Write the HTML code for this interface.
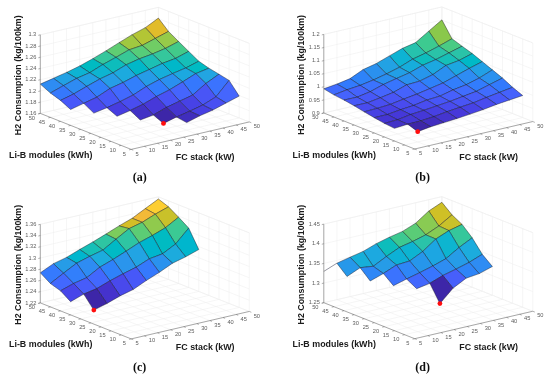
<!DOCTYPE html>
<html><head><meta charset="utf-8"><title>Figure</title>
<style>html,body{margin:0;padding:0;background:#fff}svg{display:block}</style></head>
<body><svg width="550" height="377" viewBox="0 0 550 377">
<defs><filter id="soft" x="0" y="0" width="100%" height="100%"><feGaussianBlur stdDeviation="0.4"/></filter></defs>
<rect width="550" height="377" fill="#ffffff"/>
<g filter="url(#soft)">
<g>
<line x1="131.20" y1="149.40" x2="40.30" y2="113.40" stroke="#ececec" stroke-width="0.5"/>
<line x1="131.20" y1="149.40" x2="249.28" y2="121.95" stroke="#ececec" stroke-width="0.5"/>
<line x1="144.32" y1="146.35" x2="53.42" y2="110.35" stroke="#ececec" stroke-width="0.5"/>
<line x1="121.10" y1="145.40" x2="239.18" y2="117.95" stroke="#ececec" stroke-width="0.5"/>
<line x1="157.44" y1="143.30" x2="66.54" y2="107.30" stroke="#ececec" stroke-width="0.5"/>
<line x1="111.00" y1="141.40" x2="229.08" y2="113.95" stroke="#ececec" stroke-width="0.5"/>
<line x1="170.56" y1="140.25" x2="79.66" y2="104.25" stroke="#ececec" stroke-width="0.5"/>
<line x1="100.90" y1="137.40" x2="218.98" y2="109.95" stroke="#ececec" stroke-width="0.5"/>
<line x1="183.68" y1="137.20" x2="92.78" y2="101.20" stroke="#ececec" stroke-width="0.5"/>
<line x1="90.80" y1="133.40" x2="208.88" y2="105.95" stroke="#ececec" stroke-width="0.5"/>
<line x1="196.80" y1="134.15" x2="105.90" y2="98.15" stroke="#ececec" stroke-width="0.5"/>
<line x1="80.70" y1="129.40" x2="198.78" y2="101.95" stroke="#ececec" stroke-width="0.5"/>
<line x1="209.92" y1="131.10" x2="119.02" y2="95.10" stroke="#ececec" stroke-width="0.5"/>
<line x1="70.60" y1="125.40" x2="188.68" y2="97.95" stroke="#ececec" stroke-width="0.5"/>
<line x1="223.04" y1="128.05" x2="132.14" y2="92.05" stroke="#ececec" stroke-width="0.5"/>
<line x1="60.50" y1="121.40" x2="178.58" y2="93.95" stroke="#ececec" stroke-width="0.5"/>
<line x1="236.16" y1="125.00" x2="145.26" y2="89.00" stroke="#ececec" stroke-width="0.5"/>
<line x1="50.40" y1="117.40" x2="168.48" y2="89.95" stroke="#ececec" stroke-width="0.5"/>
<line x1="249.28" y1="121.95" x2="158.38" y2="85.95" stroke="#ececec" stroke-width="0.5"/>
<line x1="40.30" y1="113.40" x2="158.38" y2="85.95" stroke="#ececec" stroke-width="0.5"/>
<line x1="40.30" y1="113.40" x2="40.30" y2="34.80" stroke="#ececec" stroke-width="0.5"/>
<line x1="249.28" y1="121.95" x2="249.28" y2="43.35" stroke="#ececec" stroke-width="0.5"/>
<line x1="53.42" y1="110.35" x2="53.42" y2="31.75" stroke="#ececec" stroke-width="0.5"/>
<line x1="239.18" y1="117.95" x2="239.18" y2="39.35" stroke="#ececec" stroke-width="0.5"/>
<line x1="66.54" y1="107.30" x2="66.54" y2="28.70" stroke="#ececec" stroke-width="0.5"/>
<line x1="229.08" y1="113.95" x2="229.08" y2="35.35" stroke="#ececec" stroke-width="0.5"/>
<line x1="79.66" y1="104.25" x2="79.66" y2="25.65" stroke="#ececec" stroke-width="0.5"/>
<line x1="218.98" y1="109.95" x2="218.98" y2="31.35" stroke="#ececec" stroke-width="0.5"/>
<line x1="92.78" y1="101.20" x2="92.78" y2="22.60" stroke="#ececec" stroke-width="0.5"/>
<line x1="208.88" y1="105.95" x2="208.88" y2="27.35" stroke="#ececec" stroke-width="0.5"/>
<line x1="105.90" y1="98.15" x2="105.90" y2="19.55" stroke="#ececec" stroke-width="0.5"/>
<line x1="198.78" y1="101.95" x2="198.78" y2="23.35" stroke="#ececec" stroke-width="0.5"/>
<line x1="119.02" y1="95.10" x2="119.02" y2="16.50" stroke="#ececec" stroke-width="0.5"/>
<line x1="188.68" y1="97.95" x2="188.68" y2="19.35" stroke="#ececec" stroke-width="0.5"/>
<line x1="132.14" y1="92.05" x2="132.14" y2="13.45" stroke="#ececec" stroke-width="0.5"/>
<line x1="178.58" y1="93.95" x2="178.58" y2="15.35" stroke="#ececec" stroke-width="0.5"/>
<line x1="145.26" y1="89.00" x2="145.26" y2="10.40" stroke="#ececec" stroke-width="0.5"/>
<line x1="168.48" y1="89.95" x2="168.48" y2="11.35" stroke="#ececec" stroke-width="0.5"/>
<line x1="158.38" y1="85.95" x2="158.38" y2="7.35" stroke="#ececec" stroke-width="0.5"/>
<line x1="158.38" y1="85.95" x2="158.38" y2="7.35" stroke="#ececec" stroke-width="0.5"/>
<line x1="40.30" y1="113.40" x2="158.38" y2="85.95" stroke="#ececec" stroke-width="0.5"/>
<line x1="158.38" y1="85.95" x2="249.28" y2="121.95" stroke="#ececec" stroke-width="0.5"/>
<line x1="40.30" y1="102.17" x2="158.38" y2="74.72" stroke="#ececec" stroke-width="0.5"/>
<line x1="158.38" y1="74.72" x2="249.28" y2="110.72" stroke="#ececec" stroke-width="0.5"/>
<line x1="40.30" y1="90.94" x2="158.38" y2="63.49" stroke="#ececec" stroke-width="0.5"/>
<line x1="158.38" y1="63.49" x2="249.28" y2="99.49" stroke="#ececec" stroke-width="0.5"/>
<line x1="40.30" y1="79.71" x2="158.38" y2="52.26" stroke="#ececec" stroke-width="0.5"/>
<line x1="158.38" y1="52.26" x2="249.28" y2="88.26" stroke="#ececec" stroke-width="0.5"/>
<line x1="40.30" y1="68.49" x2="158.38" y2="41.04" stroke="#ececec" stroke-width="0.5"/>
<line x1="158.38" y1="41.04" x2="249.28" y2="77.04" stroke="#ececec" stroke-width="0.5"/>
<line x1="40.30" y1="57.26" x2="158.38" y2="29.81" stroke="#ececec" stroke-width="0.5"/>
<line x1="158.38" y1="29.81" x2="249.28" y2="65.81" stroke="#ececec" stroke-width="0.5"/>
<line x1="40.30" y1="46.03" x2="158.38" y2="18.58" stroke="#ececec" stroke-width="0.5"/>
<line x1="158.38" y1="18.58" x2="249.28" y2="54.58" stroke="#ececec" stroke-width="0.5"/>
<line x1="40.30" y1="34.80" x2="158.38" y2="7.35" stroke="#ececec" stroke-width="0.5"/>
<line x1="158.38" y1="7.35" x2="249.28" y2="43.35" stroke="#ececec" stroke-width="0.5"/>
<line x1="40.30" y1="34.80" x2="158.38" y2="7.35" stroke="#ececec" stroke-width="0.5"/>
<line x1="158.38" y1="7.35" x2="249.28" y2="43.35" stroke="#ececec" stroke-width="0.5"/>
</g>
<g stroke="#12121c" stroke-width="0.42" stroke-linejoin="round">
<polygon points="155.36,38.40 168.48,31.40 158.38,18.10 145.26,27.70" fill="#e2bc2b"/>
<polygon points="142.24,45.40 155.36,38.40 145.26,27.70 132.14,34.70" fill="#b3c534"/>
<polygon points="165.46,48.40 178.58,41.50 168.48,31.40 155.36,38.40" fill="#96ca49"/>
<polygon points="129.12,49.80 142.24,45.40 132.14,34.70 119.02,42.70" fill="#a0c841"/>
<polygon points="152.34,54.00 165.46,48.40 155.36,38.40 142.24,45.40" fill="#70cd65"/>
<polygon points="175.56,58.40 188.68,51.40 178.58,41.50 165.46,48.40" fill="#43ca8a"/>
<polygon points="116.00,57.30 129.12,49.80 119.02,42.70 105.90,50.90" fill="#5fcd73"/>
<polygon points="139.22,58.90 152.34,54.00 142.24,45.40 129.12,49.80" fill="#57cc7a"/>
<polygon points="162.44,63.40 175.56,58.40 165.46,48.40 152.34,54.00" fill="#34c79c"/>
<polygon points="102.88,64.50 116.00,57.30 105.90,50.90 92.78,58.70" fill="#34c79c"/>
<polygon points="185.66,68.00 198.78,61.20 188.68,51.40 175.56,58.40" fill="#14bfb8"/>
<polygon points="126.10,64.80 139.22,58.90 129.12,49.80 116.00,57.30" fill="#38c896"/>
<polygon points="149.32,69.50 162.44,63.40 152.34,54.00 139.22,58.90" fill="#1cc0b4"/>
<polygon points="89.76,72.70 102.88,64.50 92.78,58.70 79.66,66.00" fill="#04bbc2"/>
<polygon points="172.54,73.60 185.66,68.00 175.56,58.40 162.44,63.40" fill="#01b8c9"/>
<polygon points="112.98,72.80 126.10,64.80 116.00,57.30 102.88,64.50" fill="#0cbdbc"/>
<polygon points="195.76,73.60 208.88,68.20 198.78,61.20 185.66,68.00" fill="#02bbc3"/>
<polygon points="136.20,75.50 149.32,69.50 139.22,58.90 126.10,64.80" fill="#01b8c8"/>
<polygon points="76.64,78.40 89.76,72.70 79.66,66.00 66.54,72.40" fill="#0cb3d3"/>
<polygon points="159.42,79.50 172.54,73.60 162.44,63.40 149.32,69.50" fill="#17aeda"/>
<polygon points="99.86,79.00 112.98,72.80 102.88,64.50 89.76,72.70" fill="#09b4d1"/>
<polygon points="182.64,81.90 195.76,73.60 185.66,68.00 172.54,73.60" fill="#1da8e0"/>
<polygon points="123.08,82.50 136.20,75.50 126.10,64.80 112.98,72.80" fill="#1baade"/>
<polygon points="205.86,83.50 218.98,74.20 208.88,68.20 195.76,73.60" fill="#20a5e2"/>
<polygon points="63.52,85.60 76.64,78.40 66.54,72.40 53.42,78.30" fill="#22a1e4"/>
<polygon points="146.30,86.50 159.42,79.50 149.32,69.50 136.20,75.50" fill="#259ce7"/>
<polygon points="86.74,86.40 99.86,79.00 89.76,72.70 76.64,78.40" fill="#22a2e4"/>
<polygon points="169.52,89.80 182.64,81.90 172.54,73.60 159.42,79.50" fill="#2b90ef"/>
<polygon points="109.96,88.50 123.08,82.50 112.98,72.80 99.86,79.00" fill="#259de7"/>
<polygon points="192.74,95.00 205.86,83.50 195.76,73.60 182.64,81.90" fill="#3578fd"/>
<polygon points="50.40,93.00 63.52,85.60 53.42,78.30 40.30,84.10" fill="#2d8cf3"/>
<polygon points="133.18,95.00 146.30,86.50 136.20,75.50 123.08,82.50" fill="#307ffb"/>
<polygon points="215.96,96.80 229.08,80.40 218.98,74.20 205.86,83.50" fill="#3b73fe"/>
<polygon points="73.62,94.00 86.74,86.40 76.64,78.40 63.52,85.60" fill="#2d8bf3"/>
<polygon points="156.40,96.50 169.52,89.80 159.42,79.50 146.30,86.50" fill="#327cfc"/>
<polygon points="96.84,97.20 109.96,88.50 99.86,79.00 86.74,86.40" fill="#307ffb"/>
<polygon points="179.62,101.20 192.74,95.00 182.64,81.90 169.52,89.80" fill="#4465fd"/>
<polygon points="202.84,105.00 215.96,96.80 205.86,83.50 192.74,95.00" fill="#4855f6"/>
<polygon points="120.06,101.60 133.18,95.00 123.08,82.50 109.96,88.50" fill="#4269fe"/>
<polygon points="60.50,100.40 73.62,94.00 63.52,85.60 50.40,93.00" fill="#3678fd"/>
<polygon points="143.28,104.10 156.40,96.50 146.30,86.50 133.18,95.00" fill="#4660fc"/>
<polygon points="226.06,103.00 239.18,96.10 229.08,80.40 215.96,96.80" fill="#4466fd"/>
<polygon points="83.72,103.30 96.84,97.20 86.74,86.40 73.62,94.00" fill="#406cfe"/>
<polygon points="166.50,107.40 179.62,101.20 169.52,89.80 156.40,96.50" fill="#4853f5"/>
<polygon points="106.94,107.70 120.06,101.60 109.96,88.50 96.84,97.20" fill="#4758f8"/>
<polygon points="189.72,111.20 202.84,105.00 192.74,95.00 179.62,101.20" fill="#4742e6"/>
<polygon points="130.16,110.50 143.28,104.10 133.18,95.00 120.06,101.60" fill="#484df0"/>
<polygon points="212.94,110.00 226.06,103.00 215.96,96.80 202.84,105.00" fill="#484ff2"/>
<polygon points="70.60,109.50 83.72,103.30 73.62,94.00 60.50,100.40" fill="#4759f9"/>
<polygon points="153.38,115.00 166.50,107.40 156.40,96.50 143.28,104.10" fill="#4639d9"/>
<polygon points="93.82,113.10 106.94,107.70 96.84,97.20 83.72,103.30" fill="#484aee"/>
<polygon points="176.60,117.00 189.72,111.20 179.62,101.20 166.50,107.40" fill="#4434cf"/>
<polygon points="117.04,116.30 130.16,110.50 120.06,101.60 106.94,107.70" fill="#463de0"/>
<polygon points="199.82,115.80 212.94,110.00 202.84,105.00 189.72,111.20" fill="#473fe2"/>
<polygon points="140.26,120.00 153.38,115.00 143.28,104.10 130.16,110.50" fill="#4330c5"/>
<polygon points="163.48,123.40 176.60,117.00 166.50,107.40 153.38,115.00" fill="#3e26a8"/>
<polygon points="186.70,122.60 199.82,115.80 189.72,111.20 176.60,117.00" fill="#412dbd"/>
</g>
<line x1="40.30" y1="113.40" x2="40.30" y2="34.80" stroke="#666666" stroke-width="0.55"/>
<line x1="131.20" y1="149.40" x2="249.28" y2="121.95" stroke="#666666" stroke-width="0.55"/>
<line x1="131.20" y1="149.40" x2="40.30" y2="113.40" stroke="#666666" stroke-width="0.55"/>
<line x1="131.20" y1="149.40" x2="133.25" y2="150.21" stroke="#666666" stroke-width="0.5"/>
<line x1="131.20" y1="149.40" x2="129.06" y2="149.90" stroke="#666666" stroke-width="0.5"/>
<line x1="144.32" y1="146.35" x2="146.37" y2="147.16" stroke="#666666" stroke-width="0.5"/>
<line x1="121.10" y1="145.40" x2="118.96" y2="145.90" stroke="#666666" stroke-width="0.5"/>
<line x1="157.44" y1="143.30" x2="159.49" y2="144.11" stroke="#666666" stroke-width="0.5"/>
<line x1="111.00" y1="141.40" x2="108.86" y2="141.90" stroke="#666666" stroke-width="0.5"/>
<line x1="170.56" y1="140.25" x2="172.61" y2="141.06" stroke="#666666" stroke-width="0.5"/>
<line x1="100.90" y1="137.40" x2="98.76" y2="137.90" stroke="#666666" stroke-width="0.5"/>
<line x1="183.68" y1="137.20" x2="185.73" y2="138.01" stroke="#666666" stroke-width="0.5"/>
<line x1="90.80" y1="133.40" x2="88.66" y2="133.90" stroke="#666666" stroke-width="0.5"/>
<line x1="196.80" y1="134.15" x2="198.85" y2="134.96" stroke="#666666" stroke-width="0.5"/>
<line x1="80.70" y1="129.40" x2="78.56" y2="129.90" stroke="#666666" stroke-width="0.5"/>
<line x1="209.92" y1="131.10" x2="211.97" y2="131.91" stroke="#666666" stroke-width="0.5"/>
<line x1="70.60" y1="125.40" x2="68.46" y2="125.90" stroke="#666666" stroke-width="0.5"/>
<line x1="223.04" y1="128.05" x2="225.09" y2="128.86" stroke="#666666" stroke-width="0.5"/>
<line x1="60.50" y1="121.40" x2="58.36" y2="121.90" stroke="#666666" stroke-width="0.5"/>
<line x1="236.16" y1="125.00" x2="238.21" y2="125.81" stroke="#666666" stroke-width="0.5"/>
<line x1="50.40" y1="117.40" x2="48.26" y2="117.90" stroke="#666666" stroke-width="0.5"/>
<line x1="249.28" y1="121.95" x2="251.33" y2="122.76" stroke="#666666" stroke-width="0.5"/>
<line x1="40.30" y1="113.40" x2="38.16" y2="113.90" stroke="#666666" stroke-width="0.5"/>
<line x1="40.30" y1="113.40" x2="38.30" y2="113.90" stroke="#666666" stroke-width="0.5"/>
<line x1="40.30" y1="102.17" x2="38.30" y2="102.67" stroke="#666666" stroke-width="0.5"/>
<line x1="40.30" y1="90.94" x2="38.30" y2="91.44" stroke="#666666" stroke-width="0.5"/>
<line x1="40.30" y1="79.71" x2="38.30" y2="80.21" stroke="#666666" stroke-width="0.5"/>
<line x1="40.30" y1="68.49" x2="38.30" y2="68.99" stroke="#666666" stroke-width="0.5"/>
<line x1="40.30" y1="57.26" x2="38.30" y2="57.76" stroke="#666666" stroke-width="0.5"/>
<line x1="40.30" y1="46.03" x2="38.30" y2="46.53" stroke="#666666" stroke-width="0.5"/>
<line x1="40.30" y1="34.80" x2="38.30" y2="35.30" stroke="#666666" stroke-width="0.5"/>
<g font-family="Liberation Sans, sans-serif" font-size="5.7" fill="#5c5c5c">
<text x="135.60" y="155.50" text-anchor="start">5</text>
<text x="125.90" y="155.80" text-anchor="end">5</text>
<text x="148.72" y="152.45" text-anchor="start">10</text>
<text x="115.80" y="151.80" text-anchor="end">10</text>
<text x="161.84" y="149.40" text-anchor="start">15</text>
<text x="105.70" y="147.80" text-anchor="end">15</text>
<text x="174.96" y="146.35" text-anchor="start">20</text>
<text x="95.60" y="143.80" text-anchor="end">20</text>
<text x="188.08" y="143.30" text-anchor="start">25</text>
<text x="85.50" y="139.80" text-anchor="end">25</text>
<text x="201.20" y="140.25" text-anchor="start">30</text>
<text x="75.40" y="135.80" text-anchor="end">30</text>
<text x="214.32" y="137.20" text-anchor="start">35</text>
<text x="65.30" y="131.80" text-anchor="end">35</text>
<text x="227.44" y="134.15" text-anchor="start">40</text>
<text x="55.20" y="127.80" text-anchor="end">40</text>
<text x="240.56" y="131.10" text-anchor="start">45</text>
<text x="45.10" y="123.80" text-anchor="end">45</text>
<text x="253.68" y="128.05" text-anchor="start">50</text>
<text x="35.00" y="119.80" text-anchor="end">50</text>
<text x="36.30" y="115.00" text-anchor="end">1.16</text>
<text x="36.30" y="103.77" text-anchor="end">1.18</text>
<text x="36.30" y="92.54" text-anchor="end">1.2</text>
<text x="36.30" y="81.31" text-anchor="end">1.22</text>
<text x="36.30" y="70.09" text-anchor="end">1.24</text>
<text x="36.30" y="58.86" text-anchor="end">1.26</text>
<text x="36.30" y="47.63" text-anchor="end">1.28</text>
<text x="36.30" y="36.40" text-anchor="end">1.3</text>
</g>
<g font-family="Liberation Sans, sans-serif" font-weight="bold" font-size="8.88" fill="#1a1a1a">
<text x="205.20" y="160.30" text-anchor="middle">FC stack (kW)</text>
<text x="50.70" y="157.90" text-anchor="middle">Li-B modules (kWh)</text>
<text transform="translate(21.40,75.30) rotate(-90)" text-anchor="middle">H2 Consumption (kg/100km)</text>
</g>
<circle cx="163.48" cy="123.40" r="2.4" fill="#ff0a0a"/>
<text x="139.8" y="181.3" text-anchor="middle" font-family="Liberation Serif, serif" font-size="12" font-weight="bold" fill="#111">(a)</text>
<g>
<line x1="414.70" y1="149.00" x2="323.80" y2="113.00" stroke="#ececec" stroke-width="0.5"/>
<line x1="414.70" y1="149.00" x2="532.78" y2="121.55" stroke="#ececec" stroke-width="0.5"/>
<line x1="427.82" y1="145.95" x2="336.92" y2="109.95" stroke="#ececec" stroke-width="0.5"/>
<line x1="404.60" y1="145.00" x2="522.68" y2="117.55" stroke="#ececec" stroke-width="0.5"/>
<line x1="440.94" y1="142.90" x2="350.04" y2="106.90" stroke="#ececec" stroke-width="0.5"/>
<line x1="394.50" y1="141.00" x2="512.58" y2="113.55" stroke="#ececec" stroke-width="0.5"/>
<line x1="454.06" y1="139.85" x2="363.16" y2="103.85" stroke="#ececec" stroke-width="0.5"/>
<line x1="384.40" y1="137.00" x2="502.48" y2="109.55" stroke="#ececec" stroke-width="0.5"/>
<line x1="467.18" y1="136.80" x2="376.28" y2="100.80" stroke="#ececec" stroke-width="0.5"/>
<line x1="374.30" y1="133.00" x2="492.38" y2="105.55" stroke="#ececec" stroke-width="0.5"/>
<line x1="480.30" y1="133.75" x2="389.40" y2="97.75" stroke="#ececec" stroke-width="0.5"/>
<line x1="364.20" y1="129.00" x2="482.28" y2="101.55" stroke="#ececec" stroke-width="0.5"/>
<line x1="493.42" y1="130.70" x2="402.52" y2="94.70" stroke="#ececec" stroke-width="0.5"/>
<line x1="354.10" y1="125.00" x2="472.18" y2="97.55" stroke="#ececec" stroke-width="0.5"/>
<line x1="506.54" y1="127.65" x2="415.64" y2="91.65" stroke="#ececec" stroke-width="0.5"/>
<line x1="344.00" y1="121.00" x2="462.08" y2="93.55" stroke="#ececec" stroke-width="0.5"/>
<line x1="519.66" y1="124.60" x2="428.76" y2="88.60" stroke="#ececec" stroke-width="0.5"/>
<line x1="333.90" y1="117.00" x2="451.98" y2="89.55" stroke="#ececec" stroke-width="0.5"/>
<line x1="532.78" y1="121.55" x2="441.88" y2="85.55" stroke="#ececec" stroke-width="0.5"/>
<line x1="323.80" y1="113.00" x2="441.88" y2="85.55" stroke="#ececec" stroke-width="0.5"/>
<line x1="323.80" y1="113.00" x2="323.80" y2="34.40" stroke="#ececec" stroke-width="0.5"/>
<line x1="532.78" y1="121.55" x2="532.78" y2="42.95" stroke="#ececec" stroke-width="0.5"/>
<line x1="336.92" y1="109.95" x2="336.92" y2="31.35" stroke="#ececec" stroke-width="0.5"/>
<line x1="522.68" y1="117.55" x2="522.68" y2="38.95" stroke="#ececec" stroke-width="0.5"/>
<line x1="350.04" y1="106.90" x2="350.04" y2="28.30" stroke="#ececec" stroke-width="0.5"/>
<line x1="512.58" y1="113.55" x2="512.58" y2="34.95" stroke="#ececec" stroke-width="0.5"/>
<line x1="363.16" y1="103.85" x2="363.16" y2="25.25" stroke="#ececec" stroke-width="0.5"/>
<line x1="502.48" y1="109.55" x2="502.48" y2="30.95" stroke="#ececec" stroke-width="0.5"/>
<line x1="376.28" y1="100.80" x2="376.28" y2="22.20" stroke="#ececec" stroke-width="0.5"/>
<line x1="492.38" y1="105.55" x2="492.38" y2="26.95" stroke="#ececec" stroke-width="0.5"/>
<line x1="389.40" y1="97.75" x2="389.40" y2="19.15" stroke="#ececec" stroke-width="0.5"/>
<line x1="482.28" y1="101.55" x2="482.28" y2="22.95" stroke="#ececec" stroke-width="0.5"/>
<line x1="402.52" y1="94.70" x2="402.52" y2="16.10" stroke="#ececec" stroke-width="0.5"/>
<line x1="472.18" y1="97.55" x2="472.18" y2="18.95" stroke="#ececec" stroke-width="0.5"/>
<line x1="415.64" y1="91.65" x2="415.64" y2="13.05" stroke="#ececec" stroke-width="0.5"/>
<line x1="462.08" y1="93.55" x2="462.08" y2="14.95" stroke="#ececec" stroke-width="0.5"/>
<line x1="428.76" y1="88.60" x2="428.76" y2="10.00" stroke="#ececec" stroke-width="0.5"/>
<line x1="451.98" y1="89.55" x2="451.98" y2="10.95" stroke="#ececec" stroke-width="0.5"/>
<line x1="441.88" y1="85.55" x2="441.88" y2="6.95" stroke="#ececec" stroke-width="0.5"/>
<line x1="441.88" y1="85.55" x2="441.88" y2="6.95" stroke="#ececec" stroke-width="0.5"/>
<line x1="323.80" y1="113.00" x2="441.88" y2="85.55" stroke="#ececec" stroke-width="0.5"/>
<line x1="441.88" y1="85.55" x2="532.78" y2="121.55" stroke="#ececec" stroke-width="0.5"/>
<line x1="323.80" y1="99.90" x2="441.88" y2="72.45" stroke="#ececec" stroke-width="0.5"/>
<line x1="441.88" y1="72.45" x2="532.78" y2="108.45" stroke="#ececec" stroke-width="0.5"/>
<line x1="323.80" y1="86.80" x2="441.88" y2="59.35" stroke="#ececec" stroke-width="0.5"/>
<line x1="441.88" y1="59.35" x2="532.78" y2="95.35" stroke="#ececec" stroke-width="0.5"/>
<line x1="323.80" y1="73.70" x2="441.88" y2="46.25" stroke="#ececec" stroke-width="0.5"/>
<line x1="441.88" y1="46.25" x2="532.78" y2="82.25" stroke="#ececec" stroke-width="0.5"/>
<line x1="323.80" y1="60.60" x2="441.88" y2="33.15" stroke="#ececec" stroke-width="0.5"/>
<line x1="441.88" y1="33.15" x2="532.78" y2="69.15" stroke="#ececec" stroke-width="0.5"/>
<line x1="323.80" y1="47.50" x2="441.88" y2="20.05" stroke="#ececec" stroke-width="0.5"/>
<line x1="441.88" y1="20.05" x2="532.78" y2="56.05" stroke="#ececec" stroke-width="0.5"/>
<line x1="323.80" y1="34.40" x2="441.88" y2="6.95" stroke="#ececec" stroke-width="0.5"/>
<line x1="441.88" y1="6.95" x2="532.78" y2="42.95" stroke="#ececec" stroke-width="0.5"/>
<line x1="323.80" y1="34.40" x2="441.88" y2="6.95" stroke="#ececec" stroke-width="0.5"/>
<line x1="441.88" y1="6.95" x2="532.78" y2="42.95" stroke="#ececec" stroke-width="0.5"/>
</g>
<g stroke="#12121c" stroke-width="0.42" stroke-linejoin="round">
<polygon points="438.86,46.12 451.98,38.74 441.88,19.86 428.76,31.14" fill="#8ac84c"/>
<polygon points="425.74,53.00 438.86,46.12 428.76,31.14 415.64,42.62" fill="#3dca90"/>
<polygon points="448.96,52.90 462.08,46.22 451.98,38.74 438.86,46.12" fill="#4acb84"/>
<polygon points="412.62,59.18 425.74,53.00 415.64,42.62 402.52,48.30" fill="#26c2ad"/>
<polygon points="435.84,59.58 448.96,52.90 438.86,46.12 425.74,53.00" fill="#2bc3a8"/>
<polygon points="459.06,60.48 472.18,53.50 462.08,46.22 448.96,52.90" fill="#2bc3a8"/>
<polygon points="399.50,67.26 412.62,59.18 402.52,48.30 389.40,55.88" fill="#0db3d3"/>
<polygon points="422.72,65.26 435.84,59.58 425.74,53.00 412.62,59.18" fill="#0abdbd"/>
<polygon points="445.94,65.46 459.06,60.48 448.96,52.90 435.84,59.58" fill="#15bfb8"/>
<polygon points="386.38,73.94 399.50,67.26 389.40,55.88 376.28,63.56" fill="#22a2e4"/>
<polygon points="469.16,68.46 482.28,61.68 472.18,53.50 459.06,60.48" fill="#01b9c7"/>
<polygon points="409.60,72.74 422.72,65.26 412.62,59.18 399.50,67.26" fill="#19addc"/>
<polygon points="432.82,74.64 445.94,65.46 435.84,59.58 422.72,65.26" fill="#1da8e0"/>
<polygon points="373.26,80.02 386.38,73.94 376.28,63.56 363.16,69.54" fill="#2b91ef"/>
<polygon points="456.04,75.74 469.16,68.46 459.06,60.48 445.94,65.46" fill="#1ea7e1"/>
<polygon points="396.48,78.52 409.60,72.74 399.50,67.26 386.38,73.94" fill="#249fe6"/>
<polygon points="479.26,78.04 492.38,69.86 482.28,61.68 469.16,68.46" fill="#23a0e5"/>
<polygon points="419.70,81.12 432.82,74.64 422.72,65.26 409.60,72.74" fill="#2896ec"/>
<polygon points="360.14,85.40 373.26,80.02 363.16,69.54 350.04,78.62" fill="#2e83f9"/>
<polygon points="442.92,83.02 456.04,75.74 445.94,65.46 432.82,74.64" fill="#2b90f0"/>
<polygon points="383.36,84.50 396.48,78.52 386.38,73.94 373.26,80.02" fill="#2c8ef1"/>
<polygon points="466.14,84.72 479.26,78.04 469.16,68.46 456.04,75.74" fill="#2d8cf3"/>
<polygon points="406.58,84.90 419.70,81.12 409.60,72.74 396.48,78.52" fill="#2b91ef"/>
<polygon points="489.36,84.72 502.48,78.04 492.38,69.86 479.26,78.04" fill="#2b91ef"/>
<polygon points="347.02,89.78 360.14,85.40 350.04,78.62 336.92,84.10" fill="#337afd"/>
<polygon points="429.80,88.60 442.92,83.02 432.82,74.64 419.70,81.12" fill="#2f81fa"/>
<polygon points="370.24,91.68 383.36,84.50 373.26,80.02 360.14,85.40" fill="#3a73fe"/>
<polygon points="453.02,89.90 466.14,84.72 456.04,75.74 442.92,83.02" fill="#307efb"/>
<polygon points="393.46,92.38 406.58,84.90 396.48,78.52 383.36,84.50" fill="#3875fe"/>
<polygon points="476.24,91.40 489.36,84.72 479.26,78.04 466.14,84.72" fill="#337bfd"/>
<polygon points="333.90,94.86 347.02,89.78 336.92,84.10 323.80,88.78" fill="#406cfe"/>
<polygon points="416.68,94.18 429.80,88.60 419.70,81.12 406.58,84.90" fill="#3e6fff"/>
<polygon points="499.46,92.40 512.58,87.32 502.48,78.04 489.36,84.72" fill="#337afd"/>
<polygon points="357.12,97.16 370.24,91.68 360.14,85.40 347.02,89.78" fill="#4563fc"/>
<polygon points="439.90,96.08 453.02,89.90 442.92,83.02 429.80,88.60" fill="#4369fe"/>
<polygon points="380.34,97.76 393.46,92.38 383.36,84.50 370.24,91.68" fill="#4465fd"/>
<polygon points="463.12,96.38 476.24,91.40 466.14,84.72 453.02,89.90" fill="#406dfe"/>
<polygon points="486.34,97.48 499.46,92.40 489.36,84.72 476.24,91.40" fill="#406cfe"/>
<polygon points="403.56,99.16 416.68,94.18 406.58,84.90 393.46,92.38" fill="#4562fc"/>
<polygon points="344.00,100.04 357.12,97.16 347.02,89.78 333.90,94.86" fill="#4564fd"/>
<polygon points="426.78,100.06 439.90,96.08 429.80,88.60 416.68,94.18" fill="#4562fc"/>
<polygon points="509.56,99.98 522.68,95.50 512.58,87.32 499.46,92.40" fill="#4562fc"/>
<polygon points="367.22,102.84 380.34,97.76 370.24,91.68 357.12,97.16" fill="#4758f8"/>
<polygon points="450.00,101.36 463.12,96.38 453.02,89.90 439.90,96.08" fill="#4660fc"/>
<polygon points="390.44,104.34 403.56,99.16 393.46,92.38 380.34,97.76" fill="#4854f6"/>
<polygon points="473.22,102.86 486.34,97.48 476.24,91.40 463.12,96.38" fill="#475dfa"/>
<polygon points="413.66,105.44 426.78,100.06 416.68,94.18 403.56,99.16" fill="#4854f5"/>
<polygon points="496.44,104.46 509.56,99.98 499.46,92.40 486.34,97.48" fill="#4758f8"/>
<polygon points="354.10,105.72 367.22,102.84 357.12,97.16 344.00,100.04" fill="#4759f8"/>
<polygon points="436.88,105.84 450.00,101.36 439.90,96.08 426.78,100.06" fill="#4757f7"/>
<polygon points="377.32,108.32 390.44,104.34 380.34,97.76 367.22,102.84" fill="#484ff1"/>
<polygon points="460.10,107.24 473.22,102.86 463.12,96.38 450.00,101.36" fill="#4854f5"/>
<polygon points="400.54,109.72 413.66,105.44 403.56,99.16 390.44,104.34" fill="#484cef"/>
<polygon points="483.32,109.54 496.44,104.46 486.34,97.48 473.22,102.86" fill="#484bef"/>
<polygon points="423.76,110.32 436.88,105.84 426.78,100.06 413.66,105.44" fill="#484ef1"/>
<polygon points="364.20,111.80 377.32,108.32 367.22,102.84 354.10,105.72" fill="#484cef"/>
<polygon points="446.98,111.72 460.10,107.24 450.00,101.36 436.88,105.84" fill="#484bef"/>
<polygon points="387.42,114.50 400.54,109.72 390.44,104.34 377.32,108.32" fill="#4740e4"/>
<polygon points="470.20,114.12 483.32,109.54 473.22,102.86 460.10,107.24" fill="#4742e6"/>
<polygon points="410.64,114.50 423.76,110.32 413.66,105.44 400.54,109.72" fill="#4747eb"/>
<polygon points="433.86,116.60 446.98,111.72 436.88,105.84 423.76,110.32" fill="#473fe3"/>
<polygon points="374.30,117.68 387.42,114.50 377.32,108.32 364.20,111.80" fill="#4740e3"/>
<polygon points="457.08,118.50 470.20,114.12 460.10,107.24 446.98,111.72" fill="#4639da"/>
<polygon points="397.52,119.78 410.64,114.50 400.54,109.72 387.42,114.50" fill="#4539d9"/>
<polygon points="420.74,120.88 433.86,116.60 423.76,110.32 410.64,114.50" fill="#4538d7"/>
<polygon points="443.96,122.58 457.08,118.50 446.98,111.72 433.86,116.60" fill="#4434cf"/>
<polygon points="384.40,123.36 397.52,119.78 387.42,114.50 374.30,117.68" fill="#4536d3"/>
<polygon points="407.62,124.16 420.74,120.88 410.64,114.50 397.52,119.78" fill="#4537d5"/>
<polygon points="430.84,126.76 443.96,122.58 433.86,116.60 420.74,120.88" fill="#422fc0"/>
<polygon points="394.50,128.34 407.62,124.16 397.52,119.78 384.40,123.36" fill="#4331c7"/>
<polygon points="417.72,131.64 430.84,126.76 420.74,120.88 407.62,124.16" fill="#3e26a8"/>
</g>
<line x1="323.80" y1="113.00" x2="323.80" y2="34.40" stroke="#666666" stroke-width="0.55"/>
<line x1="414.70" y1="149.00" x2="532.78" y2="121.55" stroke="#666666" stroke-width="0.55"/>
<line x1="414.70" y1="149.00" x2="323.80" y2="113.00" stroke="#666666" stroke-width="0.55"/>
<line x1="414.70" y1="149.00" x2="416.75" y2="149.81" stroke="#666666" stroke-width="0.5"/>
<line x1="414.70" y1="149.00" x2="412.56" y2="149.50" stroke="#666666" stroke-width="0.5"/>
<line x1="427.82" y1="145.95" x2="429.87" y2="146.76" stroke="#666666" stroke-width="0.5"/>
<line x1="404.60" y1="145.00" x2="402.46" y2="145.50" stroke="#666666" stroke-width="0.5"/>
<line x1="440.94" y1="142.90" x2="442.99" y2="143.71" stroke="#666666" stroke-width="0.5"/>
<line x1="394.50" y1="141.00" x2="392.36" y2="141.50" stroke="#666666" stroke-width="0.5"/>
<line x1="454.06" y1="139.85" x2="456.11" y2="140.66" stroke="#666666" stroke-width="0.5"/>
<line x1="384.40" y1="137.00" x2="382.26" y2="137.50" stroke="#666666" stroke-width="0.5"/>
<line x1="467.18" y1="136.80" x2="469.23" y2="137.61" stroke="#666666" stroke-width="0.5"/>
<line x1="374.30" y1="133.00" x2="372.16" y2="133.50" stroke="#666666" stroke-width="0.5"/>
<line x1="480.30" y1="133.75" x2="482.35" y2="134.56" stroke="#666666" stroke-width="0.5"/>
<line x1="364.20" y1="129.00" x2="362.06" y2="129.50" stroke="#666666" stroke-width="0.5"/>
<line x1="493.42" y1="130.70" x2="495.47" y2="131.51" stroke="#666666" stroke-width="0.5"/>
<line x1="354.10" y1="125.00" x2="351.96" y2="125.50" stroke="#666666" stroke-width="0.5"/>
<line x1="506.54" y1="127.65" x2="508.59" y2="128.46" stroke="#666666" stroke-width="0.5"/>
<line x1="344.00" y1="121.00" x2="341.86" y2="121.50" stroke="#666666" stroke-width="0.5"/>
<line x1="519.66" y1="124.60" x2="521.71" y2="125.41" stroke="#666666" stroke-width="0.5"/>
<line x1="333.90" y1="117.00" x2="331.76" y2="117.50" stroke="#666666" stroke-width="0.5"/>
<line x1="532.78" y1="121.55" x2="534.83" y2="122.36" stroke="#666666" stroke-width="0.5"/>
<line x1="323.80" y1="113.00" x2="321.66" y2="113.50" stroke="#666666" stroke-width="0.5"/>
<line x1="323.80" y1="113.00" x2="321.80" y2="113.50" stroke="#666666" stroke-width="0.5"/>
<line x1="323.80" y1="99.90" x2="321.80" y2="100.40" stroke="#666666" stroke-width="0.5"/>
<line x1="323.80" y1="86.80" x2="321.80" y2="87.30" stroke="#666666" stroke-width="0.5"/>
<line x1="323.80" y1="73.70" x2="321.80" y2="74.20" stroke="#666666" stroke-width="0.5"/>
<line x1="323.80" y1="60.60" x2="321.80" y2="61.10" stroke="#666666" stroke-width="0.5"/>
<line x1="323.80" y1="47.50" x2="321.80" y2="48.00" stroke="#666666" stroke-width="0.5"/>
<line x1="323.80" y1="34.40" x2="321.80" y2="34.90" stroke="#666666" stroke-width="0.5"/>
<g font-family="Liberation Sans, sans-serif" font-size="5.7" fill="#5c5c5c">
<text x="419.10" y="155.10" text-anchor="start">5</text>
<text x="409.40" y="155.40" text-anchor="end">5</text>
<text x="432.22" y="152.05" text-anchor="start">10</text>
<text x="399.30" y="151.40" text-anchor="end">10</text>
<text x="445.34" y="149.00" text-anchor="start">15</text>
<text x="389.20" y="147.40" text-anchor="end">15</text>
<text x="458.46" y="145.95" text-anchor="start">20</text>
<text x="379.10" y="143.40" text-anchor="end">20</text>
<text x="471.58" y="142.90" text-anchor="start">25</text>
<text x="369.00" y="139.40" text-anchor="end">25</text>
<text x="484.70" y="139.85" text-anchor="start">30</text>
<text x="358.90" y="135.40" text-anchor="end">30</text>
<text x="497.82" y="136.80" text-anchor="start">35</text>
<text x="348.80" y="131.40" text-anchor="end">35</text>
<text x="510.94" y="133.75" text-anchor="start">40</text>
<text x="338.70" y="127.40" text-anchor="end">40</text>
<text x="524.06" y="130.70" text-anchor="start">45</text>
<text x="328.60" y="123.40" text-anchor="end">45</text>
<text x="537.18" y="127.65" text-anchor="start">50</text>
<text x="318.50" y="119.40" text-anchor="end">50</text>
<text x="319.80" y="114.60" text-anchor="end">0.9</text>
<text x="319.80" y="101.50" text-anchor="end">0.95</text>
<text x="319.80" y="88.40" text-anchor="end">1</text>
<text x="319.80" y="75.30" text-anchor="end">1.05</text>
<text x="319.80" y="62.20" text-anchor="end">1.1</text>
<text x="319.80" y="49.10" text-anchor="end">1.15</text>
<text x="319.80" y="36.00" text-anchor="end">1.2</text>
</g>
<g font-family="Liberation Sans, sans-serif" font-weight="bold" font-size="8.88" fill="#1a1a1a">
<text x="488.70" y="159.90" text-anchor="middle">FC stack (kW)</text>
<text x="334.20" y="157.50" text-anchor="middle">Li-B modules (kWh)</text>
<text transform="translate(303.80,74.90) rotate(-90)" text-anchor="middle">H2 Consumption (kg/100km)</text>
</g>
<circle cx="417.72" cy="131.64" r="2.4" fill="#ff0a0a"/>
<text x="422.7" y="181.3" text-anchor="middle" font-family="Liberation Serif, serif" font-size="12" font-weight="bold" fill="#111">(b)</text>
<g>
<line x1="131.20" y1="338.90" x2="40.30" y2="302.90" stroke="#ececec" stroke-width="0.5"/>
<line x1="131.20" y1="338.90" x2="249.28" y2="311.45" stroke="#ececec" stroke-width="0.5"/>
<line x1="144.32" y1="335.85" x2="53.42" y2="299.85" stroke="#ececec" stroke-width="0.5"/>
<line x1="121.10" y1="334.90" x2="239.18" y2="307.45" stroke="#ececec" stroke-width="0.5"/>
<line x1="157.44" y1="332.80" x2="66.54" y2="296.80" stroke="#ececec" stroke-width="0.5"/>
<line x1="111.00" y1="330.90" x2="229.08" y2="303.45" stroke="#ececec" stroke-width="0.5"/>
<line x1="170.56" y1="329.75" x2="79.66" y2="293.75" stroke="#ececec" stroke-width="0.5"/>
<line x1="100.90" y1="326.90" x2="218.98" y2="299.45" stroke="#ececec" stroke-width="0.5"/>
<line x1="183.68" y1="326.70" x2="92.78" y2="290.70" stroke="#ececec" stroke-width="0.5"/>
<line x1="90.80" y1="322.90" x2="208.88" y2="295.45" stroke="#ececec" stroke-width="0.5"/>
<line x1="196.80" y1="323.65" x2="105.90" y2="287.65" stroke="#ececec" stroke-width="0.5"/>
<line x1="80.70" y1="318.90" x2="198.78" y2="291.45" stroke="#ececec" stroke-width="0.5"/>
<line x1="209.92" y1="320.60" x2="119.02" y2="284.60" stroke="#ececec" stroke-width="0.5"/>
<line x1="70.60" y1="314.90" x2="188.68" y2="287.45" stroke="#ececec" stroke-width="0.5"/>
<line x1="223.04" y1="317.55" x2="132.14" y2="281.55" stroke="#ececec" stroke-width="0.5"/>
<line x1="60.50" y1="310.90" x2="178.58" y2="283.45" stroke="#ececec" stroke-width="0.5"/>
<line x1="236.16" y1="314.50" x2="145.26" y2="278.50" stroke="#ececec" stroke-width="0.5"/>
<line x1="50.40" y1="306.90" x2="168.48" y2="279.45" stroke="#ececec" stroke-width="0.5"/>
<line x1="249.28" y1="311.45" x2="158.38" y2="275.45" stroke="#ececec" stroke-width="0.5"/>
<line x1="40.30" y1="302.90" x2="158.38" y2="275.45" stroke="#ececec" stroke-width="0.5"/>
<line x1="40.30" y1="302.90" x2="40.30" y2="224.30" stroke="#ececec" stroke-width="0.5"/>
<line x1="249.28" y1="311.45" x2="249.28" y2="232.85" stroke="#ececec" stroke-width="0.5"/>
<line x1="53.42" y1="299.85" x2="53.42" y2="221.25" stroke="#ececec" stroke-width="0.5"/>
<line x1="239.18" y1="307.45" x2="239.18" y2="228.85" stroke="#ececec" stroke-width="0.5"/>
<line x1="66.54" y1="296.80" x2="66.54" y2="218.20" stroke="#ececec" stroke-width="0.5"/>
<line x1="229.08" y1="303.45" x2="229.08" y2="224.85" stroke="#ececec" stroke-width="0.5"/>
<line x1="79.66" y1="293.75" x2="79.66" y2="215.15" stroke="#ececec" stroke-width="0.5"/>
<line x1="218.98" y1="299.45" x2="218.98" y2="220.85" stroke="#ececec" stroke-width="0.5"/>
<line x1="92.78" y1="290.70" x2="92.78" y2="212.10" stroke="#ececec" stroke-width="0.5"/>
<line x1="208.88" y1="295.45" x2="208.88" y2="216.85" stroke="#ececec" stroke-width="0.5"/>
<line x1="105.90" y1="287.65" x2="105.90" y2="209.05" stroke="#ececec" stroke-width="0.5"/>
<line x1="198.78" y1="291.45" x2="198.78" y2="212.85" stroke="#ececec" stroke-width="0.5"/>
<line x1="119.02" y1="284.60" x2="119.02" y2="206.00" stroke="#ececec" stroke-width="0.5"/>
<line x1="188.68" y1="287.45" x2="188.68" y2="208.85" stroke="#ececec" stroke-width="0.5"/>
<line x1="132.14" y1="281.55" x2="132.14" y2="202.95" stroke="#ececec" stroke-width="0.5"/>
<line x1="178.58" y1="283.45" x2="178.58" y2="204.85" stroke="#ececec" stroke-width="0.5"/>
<line x1="145.26" y1="278.50" x2="145.26" y2="199.90" stroke="#ececec" stroke-width="0.5"/>
<line x1="168.48" y1="279.45" x2="168.48" y2="200.85" stroke="#ececec" stroke-width="0.5"/>
<line x1="158.38" y1="275.45" x2="158.38" y2="196.85" stroke="#ececec" stroke-width="0.5"/>
<line x1="158.38" y1="275.45" x2="158.38" y2="196.85" stroke="#ececec" stroke-width="0.5"/>
<line x1="40.30" y1="302.90" x2="158.38" y2="275.45" stroke="#ececec" stroke-width="0.5"/>
<line x1="158.38" y1="275.45" x2="249.28" y2="311.45" stroke="#ececec" stroke-width="0.5"/>
<line x1="40.30" y1="291.67" x2="158.38" y2="264.22" stroke="#ececec" stroke-width="0.5"/>
<line x1="158.38" y1="264.22" x2="249.28" y2="300.22" stroke="#ececec" stroke-width="0.5"/>
<line x1="40.30" y1="280.44" x2="158.38" y2="252.99" stroke="#ececec" stroke-width="0.5"/>
<line x1="158.38" y1="252.99" x2="249.28" y2="288.99" stroke="#ececec" stroke-width="0.5"/>
<line x1="40.30" y1="269.21" x2="158.38" y2="241.76" stroke="#ececec" stroke-width="0.5"/>
<line x1="158.38" y1="241.76" x2="249.28" y2="277.76" stroke="#ececec" stroke-width="0.5"/>
<line x1="40.30" y1="257.99" x2="158.38" y2="230.54" stroke="#ececec" stroke-width="0.5"/>
<line x1="158.38" y1="230.54" x2="249.28" y2="266.54" stroke="#ececec" stroke-width="0.5"/>
<line x1="40.30" y1="246.76" x2="158.38" y2="219.31" stroke="#ececec" stroke-width="0.5"/>
<line x1="158.38" y1="219.31" x2="249.28" y2="255.31" stroke="#ececec" stroke-width="0.5"/>
<line x1="40.30" y1="235.53" x2="158.38" y2="208.08" stroke="#ececec" stroke-width="0.5"/>
<line x1="158.38" y1="208.08" x2="249.28" y2="244.08" stroke="#ececec" stroke-width="0.5"/>
<line x1="40.30" y1="224.30" x2="158.38" y2="196.85" stroke="#ececec" stroke-width="0.5"/>
<line x1="158.38" y1="196.85" x2="249.28" y2="232.85" stroke="#ececec" stroke-width="0.5"/>
<line x1="40.30" y1="224.30" x2="158.38" y2="196.85" stroke="#ececec" stroke-width="0.5"/>
<line x1="158.38" y1="196.85" x2="249.28" y2="232.85" stroke="#ececec" stroke-width="0.5"/>
</g>
<g stroke="#12121c" stroke-width="0.42" stroke-linejoin="round">
<polygon points="155.36,214.10 168.48,206.80 158.38,199.00 145.26,208.60" fill="#fdce31"/>
<polygon points="142.24,222.30 155.36,214.10 145.26,208.60 132.14,218.30" fill="#f2ba37"/>
<polygon points="165.46,227.70 178.58,217.20 168.48,206.80 155.36,214.10" fill="#c9c129"/>
<polygon points="129.12,228.60 142.24,222.30 132.14,218.30 119.02,225.90" fill="#d5be28"/>
<polygon points="152.34,235.50 165.46,227.70 155.36,214.10 142.24,222.30" fill="#90ca4d"/>
<polygon points="175.56,244.00 188.68,228.10 178.58,217.20 165.46,227.70" fill="#3ac994"/>
<polygon points="116.00,239.20 129.12,228.60 119.02,225.90 105.90,234.10" fill="#7bcc5d"/>
<polygon points="139.22,242.60 152.34,235.50 142.24,222.30 129.12,228.60" fill="#5ccc75"/>
<polygon points="162.44,253.90 175.56,244.00 165.46,227.70 152.34,235.50" fill="#04bbc2"/>
<polygon points="102.88,250.10 116.00,239.20 105.90,234.10 92.78,242.00" fill="#2fc5a2"/>
<polygon points="185.66,256.80 198.78,249.50 188.68,228.10 175.56,244.00" fill="#04b6cd"/>
<polygon points="126.10,251.20 139.22,242.60 129.12,228.60 116.00,239.20" fill="#2fc5a3"/>
<polygon points="149.32,258.80 162.44,253.90 152.34,235.50 139.22,242.60" fill="#04b6cd"/>
<polygon points="89.76,256.30 102.88,250.10 92.78,242.00 79.66,249.50" fill="#16bfb7"/>
<polygon points="172.54,263.20 185.66,256.80 175.56,244.00 162.44,253.90" fill="#1aabdd"/>
<polygon points="112.98,259.50 126.10,251.20 116.00,239.20 102.88,250.10" fill="#02bac5"/>
<polygon points="136.20,267.20 149.32,258.80 139.22,242.60 126.10,251.20" fill="#21a4e3"/>
<polygon points="76.64,263.20 89.76,256.30 79.66,249.50 66.54,257.40" fill="#05b6ce"/>
<polygon points="159.42,272.30 172.54,263.20 162.44,253.90 149.32,258.80" fill="#2b92ee"/>
<polygon points="99.86,267.20 112.98,259.50 102.88,250.10 89.76,256.30" fill="#1aacdd"/>
<polygon points="123.08,273.80 136.20,267.20 126.10,251.20 112.98,259.50" fill="#2995ec"/>
<polygon points="63.52,273.20 76.64,263.20 66.54,257.40 53.42,263.70" fill="#259ce7"/>
<polygon points="146.30,280.50 159.42,272.30 149.32,258.80 136.20,267.20" fill="#3579fd"/>
<polygon points="86.74,277.70 99.86,267.20 89.76,256.30 76.64,263.20" fill="#2d8cf3"/>
<polygon points="109.96,280.80 123.08,273.80 112.98,259.50 99.86,267.20" fill="#2f82fa"/>
<polygon points="50.40,283.50 63.52,273.20 53.42,263.70 40.30,272.80" fill="#347afd"/>
<polygon points="133.18,289.50 146.30,280.50 136.20,267.20 123.08,273.80" fill="#4759f8"/>
<polygon points="73.62,283.50 86.74,277.70 76.64,263.20 63.52,273.20" fill="#307ffb"/>
<polygon points="96.84,288.60 109.96,280.80 99.86,267.20 86.74,277.70" fill="#4368fe"/>
<polygon points="120.06,295.90 133.18,289.50 123.08,273.80 109.96,280.80" fill="#4848ec"/>
<polygon points="60.50,290.80 73.62,283.50 63.52,273.20 50.40,283.50" fill="#4368fe"/>
<polygon points="83.72,294.10 96.84,288.60 86.74,277.70 73.62,283.50" fill="#475cfa"/>
<polygon points="106.94,303.50 120.06,295.90 109.96,280.80 96.84,288.60" fill="#4433cc"/>
<polygon points="70.60,301.70 83.72,294.10 73.62,283.50 60.50,290.80" fill="#4745e9"/>
<polygon points="93.82,310.10 106.94,303.50 96.84,288.60 83.72,294.10" fill="#3e26a8"/>
</g>
<line x1="40.30" y1="302.90" x2="40.30" y2="224.30" stroke="#666666" stroke-width="0.55"/>
<line x1="131.20" y1="338.90" x2="249.28" y2="311.45" stroke="#666666" stroke-width="0.55"/>
<line x1="131.20" y1="338.90" x2="40.30" y2="302.90" stroke="#666666" stroke-width="0.55"/>
<line x1="131.20" y1="338.90" x2="133.25" y2="339.71" stroke="#666666" stroke-width="0.5"/>
<line x1="131.20" y1="338.90" x2="129.06" y2="339.40" stroke="#666666" stroke-width="0.5"/>
<line x1="144.32" y1="335.85" x2="146.37" y2="336.66" stroke="#666666" stroke-width="0.5"/>
<line x1="121.10" y1="334.90" x2="118.96" y2="335.40" stroke="#666666" stroke-width="0.5"/>
<line x1="157.44" y1="332.80" x2="159.49" y2="333.61" stroke="#666666" stroke-width="0.5"/>
<line x1="111.00" y1="330.90" x2="108.86" y2="331.40" stroke="#666666" stroke-width="0.5"/>
<line x1="170.56" y1="329.75" x2="172.61" y2="330.56" stroke="#666666" stroke-width="0.5"/>
<line x1="100.90" y1="326.90" x2="98.76" y2="327.40" stroke="#666666" stroke-width="0.5"/>
<line x1="183.68" y1="326.70" x2="185.73" y2="327.51" stroke="#666666" stroke-width="0.5"/>
<line x1="90.80" y1="322.90" x2="88.66" y2="323.40" stroke="#666666" stroke-width="0.5"/>
<line x1="196.80" y1="323.65" x2="198.85" y2="324.46" stroke="#666666" stroke-width="0.5"/>
<line x1="80.70" y1="318.90" x2="78.56" y2="319.40" stroke="#666666" stroke-width="0.5"/>
<line x1="209.92" y1="320.60" x2="211.97" y2="321.41" stroke="#666666" stroke-width="0.5"/>
<line x1="70.60" y1="314.90" x2="68.46" y2="315.40" stroke="#666666" stroke-width="0.5"/>
<line x1="223.04" y1="317.55" x2="225.09" y2="318.36" stroke="#666666" stroke-width="0.5"/>
<line x1="60.50" y1="310.90" x2="58.36" y2="311.40" stroke="#666666" stroke-width="0.5"/>
<line x1="236.16" y1="314.50" x2="238.21" y2="315.31" stroke="#666666" stroke-width="0.5"/>
<line x1="50.40" y1="306.90" x2="48.26" y2="307.40" stroke="#666666" stroke-width="0.5"/>
<line x1="249.28" y1="311.45" x2="251.33" y2="312.26" stroke="#666666" stroke-width="0.5"/>
<line x1="40.30" y1="302.90" x2="38.16" y2="303.40" stroke="#666666" stroke-width="0.5"/>
<line x1="40.30" y1="302.90" x2="38.30" y2="303.40" stroke="#666666" stroke-width="0.5"/>
<line x1="40.30" y1="291.67" x2="38.30" y2="292.17" stroke="#666666" stroke-width="0.5"/>
<line x1="40.30" y1="280.44" x2="38.30" y2="280.94" stroke="#666666" stroke-width="0.5"/>
<line x1="40.30" y1="269.21" x2="38.30" y2="269.71" stroke="#666666" stroke-width="0.5"/>
<line x1="40.30" y1="257.99" x2="38.30" y2="258.49" stroke="#666666" stroke-width="0.5"/>
<line x1="40.30" y1="246.76" x2="38.30" y2="247.26" stroke="#666666" stroke-width="0.5"/>
<line x1="40.30" y1="235.53" x2="38.30" y2="236.03" stroke="#666666" stroke-width="0.5"/>
<line x1="40.30" y1="224.30" x2="38.30" y2="224.80" stroke="#666666" stroke-width="0.5"/>
<g font-family="Liberation Sans, sans-serif" font-size="5.7" fill="#5c5c5c">
<text x="135.60" y="345.00" text-anchor="start">5</text>
<text x="125.90" y="345.30" text-anchor="end">5</text>
<text x="148.72" y="341.95" text-anchor="start">10</text>
<text x="115.80" y="341.30" text-anchor="end">10</text>
<text x="161.84" y="338.90" text-anchor="start">15</text>
<text x="105.70" y="337.30" text-anchor="end">15</text>
<text x="174.96" y="335.85" text-anchor="start">20</text>
<text x="95.60" y="333.30" text-anchor="end">20</text>
<text x="188.08" y="332.80" text-anchor="start">25</text>
<text x="85.50" y="329.30" text-anchor="end">25</text>
<text x="201.20" y="329.75" text-anchor="start">30</text>
<text x="75.40" y="325.30" text-anchor="end">30</text>
<text x="214.32" y="326.70" text-anchor="start">35</text>
<text x="65.30" y="321.30" text-anchor="end">35</text>
<text x="227.44" y="323.65" text-anchor="start">40</text>
<text x="55.20" y="317.30" text-anchor="end">40</text>
<text x="240.56" y="320.60" text-anchor="start">45</text>
<text x="45.10" y="313.30" text-anchor="end">45</text>
<text x="253.68" y="317.55" text-anchor="start">50</text>
<text x="35.00" y="309.30" text-anchor="end">50</text>
<text x="36.30" y="304.50" text-anchor="end">1.22</text>
<text x="36.30" y="293.27" text-anchor="end">1.24</text>
<text x="36.30" y="282.04" text-anchor="end">1.26</text>
<text x="36.30" y="270.81" text-anchor="end">1.28</text>
<text x="36.30" y="259.59" text-anchor="end">1.3</text>
<text x="36.30" y="248.36" text-anchor="end">1.32</text>
<text x="36.30" y="237.13" text-anchor="end">1.34</text>
<text x="36.30" y="225.90" text-anchor="end">1.36</text>
</g>
<g font-family="Liberation Sans, sans-serif" font-weight="bold" font-size="8.88" fill="#1a1a1a">
<text x="205.20" y="349.80" text-anchor="middle">FC stack (kW)</text>
<text x="50.70" y="347.40" text-anchor="middle">Li-B modules (kWh)</text>
<text transform="translate(21.20,264.80) rotate(-90)" text-anchor="middle">H2 Consumption (kg/100km)</text>
</g>
<circle cx="93.82" cy="310.10" r="2.4" fill="#ff0a0a"/>
<text x="139.7" y="371.2" text-anchor="middle" font-family="Liberation Serif, serif" font-size="12" font-weight="bold" fill="#111">(c)</text>
<g>
<line x1="414.70" y1="338.70" x2="323.80" y2="302.70" stroke="#ececec" stroke-width="0.5"/>
<line x1="414.70" y1="338.70" x2="532.78" y2="311.25" stroke="#ececec" stroke-width="0.5"/>
<line x1="427.82" y1="335.65" x2="336.92" y2="299.65" stroke="#ececec" stroke-width="0.5"/>
<line x1="404.60" y1="334.70" x2="522.68" y2="307.25" stroke="#ececec" stroke-width="0.5"/>
<line x1="440.94" y1="332.60" x2="350.04" y2="296.60" stroke="#ececec" stroke-width="0.5"/>
<line x1="394.50" y1="330.70" x2="512.58" y2="303.25" stroke="#ececec" stroke-width="0.5"/>
<line x1="454.06" y1="329.55" x2="363.16" y2="293.55" stroke="#ececec" stroke-width="0.5"/>
<line x1="384.40" y1="326.70" x2="502.48" y2="299.25" stroke="#ececec" stroke-width="0.5"/>
<line x1="467.18" y1="326.50" x2="376.28" y2="290.50" stroke="#ececec" stroke-width="0.5"/>
<line x1="374.30" y1="322.70" x2="492.38" y2="295.25" stroke="#ececec" stroke-width="0.5"/>
<line x1="480.30" y1="323.45" x2="389.40" y2="287.45" stroke="#ececec" stroke-width="0.5"/>
<line x1="364.20" y1="318.70" x2="482.28" y2="291.25" stroke="#ececec" stroke-width="0.5"/>
<line x1="493.42" y1="320.40" x2="402.52" y2="284.40" stroke="#ececec" stroke-width="0.5"/>
<line x1="354.10" y1="314.70" x2="472.18" y2="287.25" stroke="#ececec" stroke-width="0.5"/>
<line x1="506.54" y1="317.35" x2="415.64" y2="281.35" stroke="#ececec" stroke-width="0.5"/>
<line x1="344.00" y1="310.70" x2="462.08" y2="283.25" stroke="#ececec" stroke-width="0.5"/>
<line x1="519.66" y1="314.30" x2="428.76" y2="278.30" stroke="#ececec" stroke-width="0.5"/>
<line x1="333.90" y1="306.70" x2="451.98" y2="279.25" stroke="#ececec" stroke-width="0.5"/>
<line x1="532.78" y1="311.25" x2="441.88" y2="275.25" stroke="#ececec" stroke-width="0.5"/>
<line x1="323.80" y1="302.70" x2="441.88" y2="275.25" stroke="#ececec" stroke-width="0.5"/>
<line x1="323.80" y1="302.70" x2="323.80" y2="224.10" stroke="#ececec" stroke-width="0.5"/>
<line x1="532.78" y1="311.25" x2="532.78" y2="232.65" stroke="#ececec" stroke-width="0.5"/>
<line x1="336.92" y1="299.65" x2="336.92" y2="221.05" stroke="#ececec" stroke-width="0.5"/>
<line x1="522.68" y1="307.25" x2="522.68" y2="228.65" stroke="#ececec" stroke-width="0.5"/>
<line x1="350.04" y1="296.60" x2="350.04" y2="218.00" stroke="#ececec" stroke-width="0.5"/>
<line x1="512.58" y1="303.25" x2="512.58" y2="224.65" stroke="#ececec" stroke-width="0.5"/>
<line x1="363.16" y1="293.55" x2="363.16" y2="214.95" stroke="#ececec" stroke-width="0.5"/>
<line x1="502.48" y1="299.25" x2="502.48" y2="220.65" stroke="#ececec" stroke-width="0.5"/>
<line x1="376.28" y1="290.50" x2="376.28" y2="211.90" stroke="#ececec" stroke-width="0.5"/>
<line x1="492.38" y1="295.25" x2="492.38" y2="216.65" stroke="#ececec" stroke-width="0.5"/>
<line x1="389.40" y1="287.45" x2="389.40" y2="208.85" stroke="#ececec" stroke-width="0.5"/>
<line x1="482.28" y1="291.25" x2="482.28" y2="212.65" stroke="#ececec" stroke-width="0.5"/>
<line x1="402.52" y1="284.40" x2="402.52" y2="205.80" stroke="#ececec" stroke-width="0.5"/>
<line x1="472.18" y1="287.25" x2="472.18" y2="208.65" stroke="#ececec" stroke-width="0.5"/>
<line x1="415.64" y1="281.35" x2="415.64" y2="202.75" stroke="#ececec" stroke-width="0.5"/>
<line x1="462.08" y1="283.25" x2="462.08" y2="204.65" stroke="#ececec" stroke-width="0.5"/>
<line x1="428.76" y1="278.30" x2="428.76" y2="199.70" stroke="#ececec" stroke-width="0.5"/>
<line x1="451.98" y1="279.25" x2="451.98" y2="200.65" stroke="#ececec" stroke-width="0.5"/>
<line x1="441.88" y1="275.25" x2="441.88" y2="196.65" stroke="#ececec" stroke-width="0.5"/>
<line x1="441.88" y1="275.25" x2="441.88" y2="196.65" stroke="#ececec" stroke-width="0.5"/>
<line x1="323.80" y1="302.70" x2="441.88" y2="275.25" stroke="#ececec" stroke-width="0.5"/>
<line x1="441.88" y1="275.25" x2="532.78" y2="311.25" stroke="#ececec" stroke-width="0.5"/>
<line x1="323.80" y1="283.05" x2="441.88" y2="255.60" stroke="#ececec" stroke-width="0.5"/>
<line x1="441.88" y1="255.60" x2="532.78" y2="291.60" stroke="#ececec" stroke-width="0.5"/>
<line x1="323.80" y1="263.40" x2="441.88" y2="235.95" stroke="#ececec" stroke-width="0.5"/>
<line x1="441.88" y1="235.95" x2="532.78" y2="271.95" stroke="#ececec" stroke-width="0.5"/>
<line x1="323.80" y1="243.75" x2="441.88" y2="216.30" stroke="#ececec" stroke-width="0.5"/>
<line x1="441.88" y1="216.30" x2="532.78" y2="252.30" stroke="#ececec" stroke-width="0.5"/>
<line x1="323.80" y1="224.10" x2="441.88" y2="196.65" stroke="#ececec" stroke-width="0.5"/>
<line x1="441.88" y1="196.65" x2="532.78" y2="232.65" stroke="#ececec" stroke-width="0.5"/>
<line x1="323.80" y1="224.10" x2="441.88" y2="196.65" stroke="#ececec" stroke-width="0.5"/>
<line x1="441.88" y1="196.65" x2="532.78" y2="232.65" stroke="#ececec" stroke-width="0.5"/>
</g>
<g stroke="#12121c" stroke-width="0.42" stroke-linejoin="round">
<line x1="323.80" y1="271.40" x2="336.92" y2="263.20" stroke="#12121c" stroke-width="0.42"/>
<polygon points="438.86,226.00 451.98,214.80 441.88,202.30 428.76,211.00" fill="#cfc028"/>
<polygon points="425.74,234.80 438.86,226.00 428.76,211.00 415.64,223.20" fill="#89cb52"/>
<polygon points="448.96,230.60 462.08,224.40 451.98,214.80 438.86,226.00" fill="#c9c129"/>
<polygon points="412.62,241.50 425.74,234.80 415.64,223.20 402.52,231.40" fill="#5acc77"/>
<polygon points="435.84,239.00 448.96,230.60 438.86,226.00 425.74,234.80" fill="#86cb54"/>
<polygon points="459.06,247.50 472.18,237.80 462.08,224.40 448.96,230.60" fill="#34c79b"/>
<polygon points="399.50,247.40 412.62,241.50 402.52,231.40 389.40,237.20" fill="#3cc991"/>
<polygon points="422.72,251.50 435.84,239.00 425.74,234.80 412.62,241.50" fill="#2ac3a9"/>
<polygon points="445.94,258.70 459.06,247.50 448.96,230.60 435.84,239.00" fill="#07b5d0"/>
<polygon points="386.38,256.50 399.50,247.40 389.40,237.20 376.28,243.70" fill="#0dbdbc"/>
<polygon points="469.16,262.40 482.28,254.30 472.18,237.80 459.06,247.50" fill="#1aacdd"/>
<polygon points="409.60,261.00 422.72,251.50 412.62,241.50 399.50,247.40" fill="#09b4d1"/>
<polygon points="432.82,266.00 445.94,258.70 435.84,239.00 422.72,251.50" fill="#1fa6e2"/>
<polygon points="373.26,266.30 386.38,256.50 376.28,243.70 363.16,251.40" fill="#1ca9e0"/>
<polygon points="456.04,269.10 469.16,262.40 459.06,247.50 445.94,258.70" fill="#259ce7"/>
<polygon points="396.48,265.00 409.60,261.00 399.50,247.40 386.38,256.50" fill="#11b1d6"/>
<polygon points="479.26,273.60 492.38,266.50 482.28,254.30 469.16,262.40" fill="#2d8cf3"/>
<polygon points="419.70,272.70 432.82,266.00 422.72,251.50 409.60,261.00" fill="#2896eb"/>
<polygon points="360.14,267.70 373.26,266.30 363.16,251.40 350.04,257.20" fill="#15afd9"/>
<polygon points="442.92,275.50 456.04,269.10 445.94,258.70 432.82,266.00" fill="#2d8df2"/>
<polygon points="383.36,273.50 396.48,265.00 386.38,256.50 373.26,266.30" fill="#259ce7"/>
<polygon points="466.14,278.20 479.26,273.60 469.16,262.40 456.04,269.10" fill="#2e85f8"/>
<polygon points="406.58,279.00 419.70,272.70 409.60,261.00 396.48,265.00" fill="#2e86f7"/>
<polygon points="347.02,276.50 360.14,267.70 350.04,257.20 336.92,263.20" fill="#2798ea"/>
<polygon points="429.80,283.30 442.92,275.50 432.82,266.00 419.70,272.70" fill="#3975fe"/>
<polygon points="370.24,281.00 383.36,273.50 373.26,266.30 360.14,267.70" fill="#2e87f7"/>
<polygon points="453.02,288.20 466.14,278.20 456.04,269.10 442.92,275.50" fill="#465ffb"/>
<polygon points="393.46,285.70 406.58,279.00 396.48,265.00 383.36,273.50" fill="#3b73fe"/>
<polygon points="416.68,288.70 429.80,283.30 419.70,272.70 406.58,279.00" fill="#4367fd"/>
<polygon points="439.90,303.60 453.02,288.20 442.92,275.50 429.80,283.30" fill="#3e26a8"/>
</g>
<line x1="323.80" y1="302.70" x2="323.80" y2="224.10" stroke="#666666" stroke-width="0.55"/>
<line x1="414.70" y1="338.70" x2="532.78" y2="311.25" stroke="#666666" stroke-width="0.55"/>
<line x1="414.70" y1="338.70" x2="323.80" y2="302.70" stroke="#666666" stroke-width="0.55"/>
<line x1="414.70" y1="338.70" x2="416.75" y2="339.51" stroke="#666666" stroke-width="0.5"/>
<line x1="414.70" y1="338.70" x2="412.56" y2="339.20" stroke="#666666" stroke-width="0.5"/>
<line x1="427.82" y1="335.65" x2="429.87" y2="336.46" stroke="#666666" stroke-width="0.5"/>
<line x1="404.60" y1="334.70" x2="402.46" y2="335.20" stroke="#666666" stroke-width="0.5"/>
<line x1="440.94" y1="332.60" x2="442.99" y2="333.41" stroke="#666666" stroke-width="0.5"/>
<line x1="394.50" y1="330.70" x2="392.36" y2="331.20" stroke="#666666" stroke-width="0.5"/>
<line x1="454.06" y1="329.55" x2="456.11" y2="330.36" stroke="#666666" stroke-width="0.5"/>
<line x1="384.40" y1="326.70" x2="382.26" y2="327.20" stroke="#666666" stroke-width="0.5"/>
<line x1="467.18" y1="326.50" x2="469.23" y2="327.31" stroke="#666666" stroke-width="0.5"/>
<line x1="374.30" y1="322.70" x2="372.16" y2="323.20" stroke="#666666" stroke-width="0.5"/>
<line x1="480.30" y1="323.45" x2="482.35" y2="324.26" stroke="#666666" stroke-width="0.5"/>
<line x1="364.20" y1="318.70" x2="362.06" y2="319.20" stroke="#666666" stroke-width="0.5"/>
<line x1="493.42" y1="320.40" x2="495.47" y2="321.21" stroke="#666666" stroke-width="0.5"/>
<line x1="354.10" y1="314.70" x2="351.96" y2="315.20" stroke="#666666" stroke-width="0.5"/>
<line x1="506.54" y1="317.35" x2="508.59" y2="318.16" stroke="#666666" stroke-width="0.5"/>
<line x1="344.00" y1="310.70" x2="341.86" y2="311.20" stroke="#666666" stroke-width="0.5"/>
<line x1="519.66" y1="314.30" x2="521.71" y2="315.11" stroke="#666666" stroke-width="0.5"/>
<line x1="333.90" y1="306.70" x2="331.76" y2="307.20" stroke="#666666" stroke-width="0.5"/>
<line x1="532.78" y1="311.25" x2="534.83" y2="312.06" stroke="#666666" stroke-width="0.5"/>
<line x1="323.80" y1="302.70" x2="321.66" y2="303.20" stroke="#666666" stroke-width="0.5"/>
<line x1="323.80" y1="302.70" x2="321.80" y2="303.20" stroke="#666666" stroke-width="0.5"/>
<line x1="323.80" y1="283.05" x2="321.80" y2="283.55" stroke="#666666" stroke-width="0.5"/>
<line x1="323.80" y1="263.40" x2="321.80" y2="263.90" stroke="#666666" stroke-width="0.5"/>
<line x1="323.80" y1="243.75" x2="321.80" y2="244.25" stroke="#666666" stroke-width="0.5"/>
<line x1="323.80" y1="224.10" x2="321.80" y2="224.60" stroke="#666666" stroke-width="0.5"/>
<g font-family="Liberation Sans, sans-serif" font-size="5.7" fill="#5c5c5c">
<text x="419.10" y="344.80" text-anchor="start">5</text>
<text x="409.40" y="345.10" text-anchor="end">5</text>
<text x="432.22" y="341.75" text-anchor="start">10</text>
<text x="399.30" y="341.10" text-anchor="end">10</text>
<text x="445.34" y="338.70" text-anchor="start">15</text>
<text x="389.20" y="337.10" text-anchor="end">15</text>
<text x="458.46" y="335.65" text-anchor="start">20</text>
<text x="379.10" y="333.10" text-anchor="end">20</text>
<text x="471.58" y="332.60" text-anchor="start">25</text>
<text x="369.00" y="329.10" text-anchor="end">25</text>
<text x="484.70" y="329.55" text-anchor="start">30</text>
<text x="358.90" y="325.10" text-anchor="end">30</text>
<text x="497.82" y="326.50" text-anchor="start">35</text>
<text x="348.80" y="321.10" text-anchor="end">35</text>
<text x="510.94" y="323.45" text-anchor="start">40</text>
<text x="338.70" y="317.10" text-anchor="end">40</text>
<text x="524.06" y="320.40" text-anchor="start">45</text>
<text x="328.60" y="313.10" text-anchor="end">45</text>
<text x="537.18" y="317.35" text-anchor="start">50</text>
<text x="318.50" y="309.10" text-anchor="end">50</text>
<text x="319.80" y="304.30" text-anchor="end">1.25</text>
<text x="319.80" y="284.65" text-anchor="end">1.3</text>
<text x="319.80" y="265.00" text-anchor="end">1.35</text>
<text x="319.80" y="245.35" text-anchor="end">1.4</text>
<text x="319.80" y="225.70" text-anchor="end">1.45</text>
</g>
<g font-family="Liberation Sans, sans-serif" font-weight="bold" font-size="8.88" fill="#1a1a1a">
<text x="488.70" y="349.60" text-anchor="middle">FC stack (kW)</text>
<text x="334.20" y="347.20" text-anchor="middle">Li-B modules (kWh)</text>
<text transform="translate(304.40,264.60) rotate(-90)" text-anchor="middle">H2 Consumption (kg/100km)</text>
</g>
<circle cx="439.90" cy="303.60" r="2.4" fill="#ff0a0a"/>
<text x="422.7" y="371.2" text-anchor="middle" font-family="Liberation Serif, serif" font-size="12" font-weight="bold" fill="#111">(d)</text>
</g>
</svg></body></html>
